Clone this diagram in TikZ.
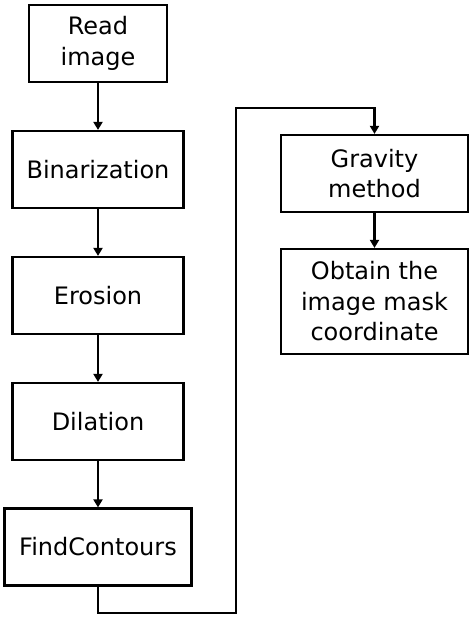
\documentclass[tikz,border=0pt]{standalone}
\usepackage{fontspec}
\setmainfont{DejaVu Sans}
\usetikzlibrary{arrows.meta}
\begin{document}
\begin{tikzpicture}[x=1pt,y=-1pt]
\tikzstyle{every node}=[font=\fontsize{24}{30.5}\selectfont]
\tikzstyle{stepbox}=[draw, line width=2.2pt, inner sep=0pt, align=center, minimum height=77pt]
\tikzstyle{flow}=[line width=2.2pt, -{Triangle[length=8pt,width=9pt]}]
\useasboundingbox (0,0) rectangle (474,619);
%%% left column
\node[stepbox, minimum width=138pt] (read) at (98,43.5) {Read\\image};
\node[stepbox, minimum width=171pt] (binar) at (98,169.5) {Binarization};
\node[stepbox, minimum width=171pt] (erosion) at (98,295.5) {Erosion};
\node[stepbox, minimum width=171pt] (dilation) at (98,421.5) {Dilation};
\node[stepbox, minimum width=187pt] (contours) at (98,547) {FindContours};
%%% right column
\node[stepbox, minimum width=187pt] (gravity) at (374.5,173.5) {Gravity\\method};
\node[stepbox, minimum width=187pt, minimum height=105pt] (mask) at (374.5,301.5) {Obtain the\\image mask\\coordinate};
%%% connectors
\draw[flow](read)--(binar);
\draw[flow](binar)--(erosion);
\draw[flow](erosion)--(dilation);
\draw[flow](dilation)--(contours);
\draw[flow](contours.south)--++(0,26)-|(236,108)-|(gravity.north);
\draw[flow](gravity)--(mask);
\end{tikzpicture}
\end{document}
